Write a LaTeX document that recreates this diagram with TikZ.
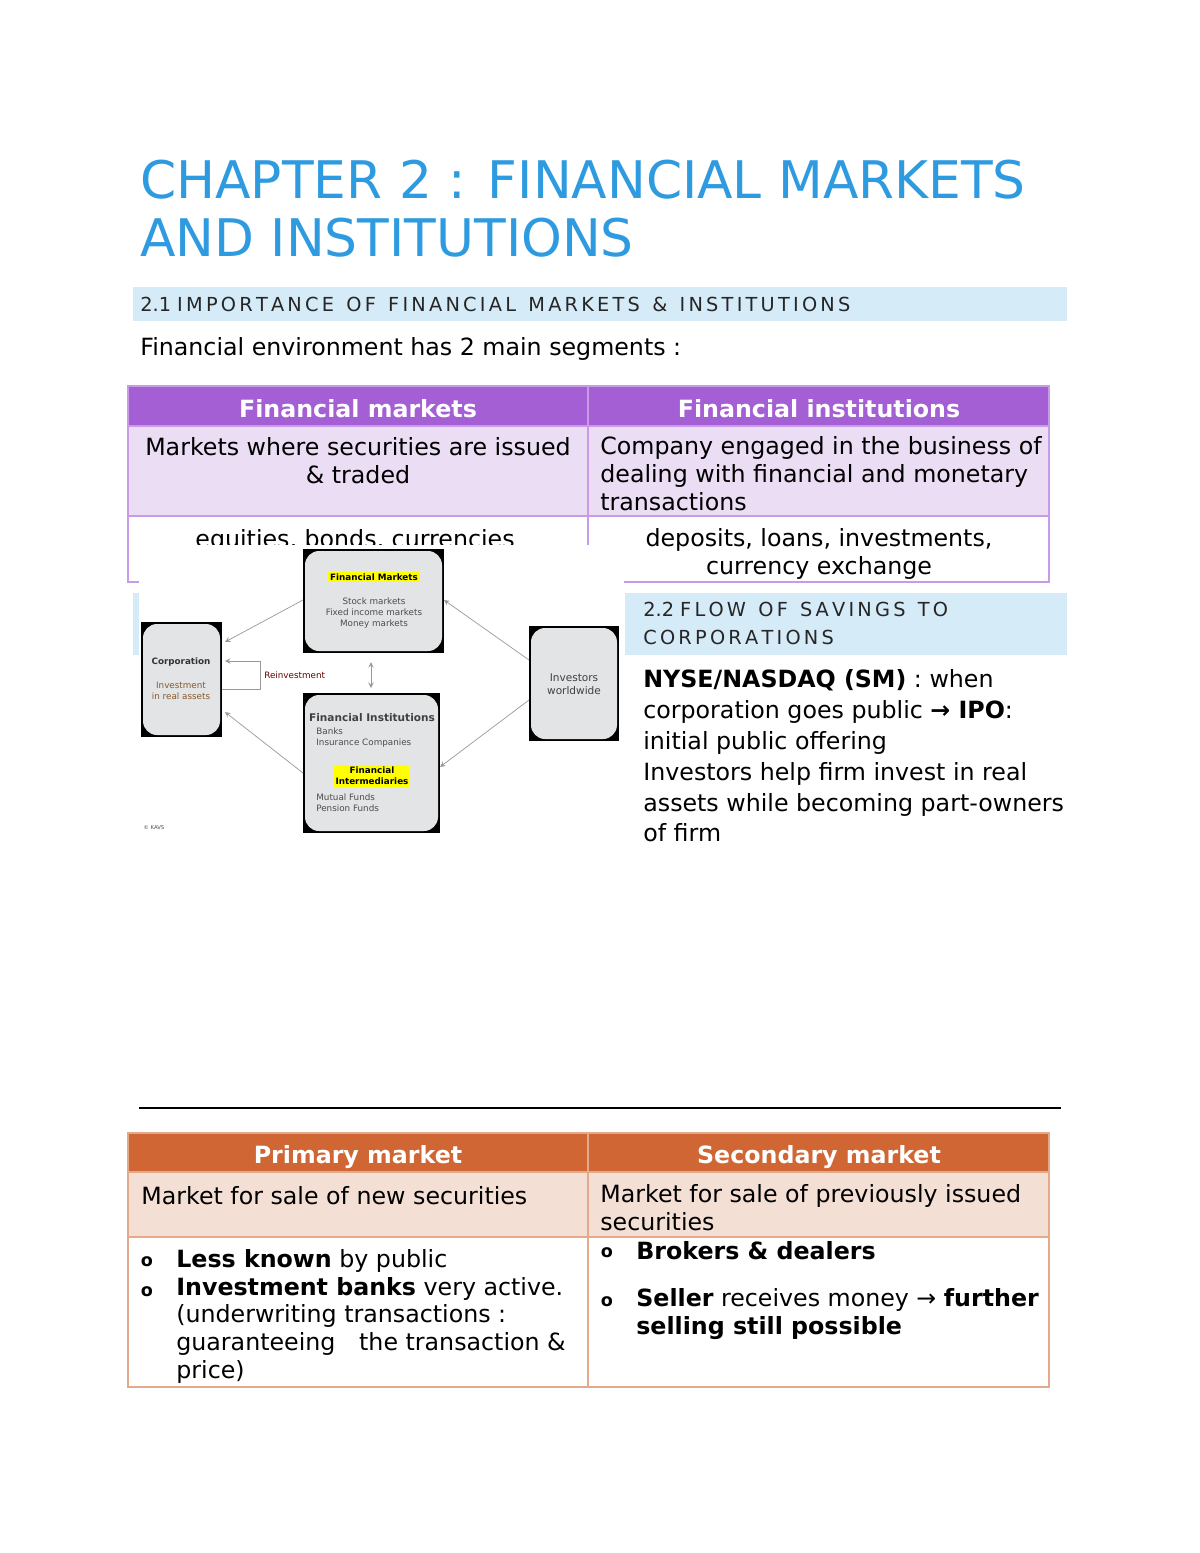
\documentclass[tikz,border=0pt]{standalone}
\usepackage{fontspec}
\setmainfont{DejaVu Sans}
\definecolor{titleblue}{HTML}{2E9BE0}
\definecolor{bandblue}{HTML}{D6EBF8}
\definecolor{purp}{HTML}{A35FD3}
\definecolor{lpurp}{HTML}{EBDDF4}
\definecolor{purpline}{HTML}{C89BE6}
\definecolor{orng}{HTML}{CF6633}
\definecolor{lorng}{HTML}{F4DFD5}
\definecolor{orline}{HTML}{E3A98C}
\definecolor{boxgray}{HTML}{E2E4E6}
\definecolor{hl}{HTML}{FFFF00}
\begin{document}
\begin{tikzpicture}[x=0.02cm,y=-0.02cm,
  body/.style={font=\fontsize{13.5}{16}\selectfont,inner sep=0pt},
  small/.style={font=\fontsize{5}{6.5}\selectfont,inner sep=0pt,text=black!70},
  gbox/.style={fill=boxgray,rounded corners=8pt,draw=none},
  arr/.style={draw=gray!80,->,>=stealth,thin}]
\useasboundingbox (0,0) rectangle (1200,1553);
\fill[white] (0,0) rectangle (1200,1553);
% title
\node[anchor=west,text=titleblue,font=\fontsize{29.5}{34}\selectfont,inner sep=0pt] (t1) at (140,180) {CHAPTER 2 : FINANCIAL MARKETS};
\node[anchor=west,text=titleblue,font=\fontsize{29.5}{34}\selectfont,inner sep=0pt] (t2) at (140,238) {AND INSTITUTIONS};
\fill[bandblue] (133,287) rectangle (1067,321);
\node[anchor=west,font=\fontsize{11}{13}\selectfont,inner sep=0pt,text=black!85] (h1) at (140,304) {2.1 I\,M\,P\,O\,R\,T\,A\,N\,C\,E\ \ O\,F\ \ F\,I\,N\,A\,N\,C\,I\,A\,L\ \ M\,A\,R\,K\,E\,T\,S\ \ \&\ \ I\,N\,S\,T\,I\,T\,U\,T\,I\,O\,N\,S};
\node[body,anchor=west] (intro) at (140,349) {Financial environment has 2 main segments :};
% table 1
\fill[purp] (128,386) rectangle (1049,426);
\fill[lpurp] (128,426) rectangle (1049,516);
\draw[purpline,line width=1.5pt] (128,386) rectangle (1049,582);
\draw[purpline,line width=1.5pt] (128,426) -- (1049,426) (128,516) -- (1049,516) (588,386) -- (588,582);
\node[body,text=white,font=\fontsize{13.5}{16}\selectfont\bfseries] (fm) at (358,409) {Financial markets};
\node[body,text=white,font=\fontsize{13.5}{16}\selectfont\bfseries] (fi) at (819,409) {Financial institutions};
\node[body,align=center] (fmd) at (358,461) {Markets where securities are issued\\\& traded};
\node[body,align=left,anchor=north west] (fid) at (600,436) {Company engaged in the business of\\dealing with financial and monetary\\transactions};
\node[body] (fme) at (355,541) {equities, bonds, currencies};
\node[body,align=center] (fie) at (819,554) {deposits, loans, investments,\\currency exchange};
% image overlay
\fill[white] (139,545) rectangle (624,840);
\fill[bandblue] (133,593) rectangle (139,655);
% section 2.2
\fill[bandblue] (625,593) rectangle (1067,655);
\node[anchor=west,font=\fontsize{11}{13}\selectfont,inner sep=0pt,text=black!85] (h2a) at (643,609) {2.2 F\,L\,O\,W\ \ O\,F\ \ S\,A\,V\,I\,N\,G\,S\ \ T\,O};
\node[anchor=west,font=\fontsize{11}{13}\selectfont,inner sep=0pt,text=black!85] (h2b) at (643,637) {C\,O\,R\,P\,O\,R\,A\,T\,I\,O\,N\,S};
\node[body,anchor=north west,align=left,font=\fontsize{13.5}{17.6}\selectfont] (txt) at (643,669) {\textbf{NYSE/NASDAQ (SM)} : when\\corporation goes public \textbf{→ IPO}:\\initial public offering\\Investors help firm invest in real\\assets while becoming part-owners\\of firm};
% diagram boxes
\fill[black] (141,622) rectangle (222,737);
\fill[gbox] (143,624) rectangle (220,735);
\fill[black] (303,549) rectangle (444,653);
\fill[gbox] (305,551) rectangle (442,651);
\fill[black] (303,693) rectangle (440,833);
\fill[gbox] (305,695) rectangle (438,831);
\fill[black] (529,626) rectangle (619,741);
\fill[gbox] (531,628) rectangle (617,739);
\node (corp) at (181,680) {};
\node[small,text=black!80] (c1) at (181,662) {\textbf{Corporation}};
\node[small,align=center,text=brown!70!black] (c2) at (181,691) {Investment\\in real assets};
\node[small,fill=hl,inner sep=1pt,text=black] (m1) at (374,577) {\textbf{Financial Markets}};
\node[small,align=center] (m2) at (374,613) {Stock markets\\Fixed income markets\\Money markets};
\node[small,font=\fontsize{6}{7}\selectfont\bfseries,text=black!75] (i1) at (372,718) {Financial Institutions};
\node[small,anchor=north west,align=left] (i2) at (316,727) {Banks\\Insurance Companies};
\node[small,fill=hl,align=center,inner sep=1pt,text=black] (i3) at (372,776) {\textbf{Financial}\\\textbf{Intermediaries}};
\node[small,anchor=north west,align=left] (i4) at (316,793) {Mutual Funds\\Pension Funds};
\node[small,align=center,font=\fontsize{6}{7.5}\selectfont,text=black!75] (inv) at (574,684) {Investors\\worldwide};
\node[small,font=\fontsize{3}{4}\selectfont] (cr) at (154,828) {© KAVS};
\coordinate (a1) at (303,600); \coordinate (a1e) at (225,642);
\coordinate (a2) at (303,773); \coordinate (a2e) at (225,712);
\coordinate (a3) at (529,660); \coordinate (a3e) at (444,600);
\coordinate (a4) at (529,700); \coordinate (a4e) at (440,767);
\draw[arr] (a1) -- (a1e);
\draw[arr] (a2) -- (a2e);
\draw[arr] (a3) -- (a3e);
\draw[arr] (a4) -- (a4e);
\coordinate (d1) at (371,662); \coordinate (d2) at (371,688);
\draw[arr,<->] (d1) -- (d2);
\coordinate (r1) at (222,689); \coordinate (r2) at (260,689); \coordinate (r3) at (260,661); \coordinate (r4) at (225,661);
\draw[arr] (r1) -- (r2) -- (r3) -- (r4);
\node[small,anchor=west,text=red!40!black] (reinv) at (264,675) {Reinvestment};
% rule
\draw[line width=1.2pt] (139,1108) -- (1061,1108);
% table 2
\fill[orng] (128,1133) rectangle (1049,1172);
\fill[lorng] (128,1172) rectangle (1049,1237);
\draw[orline,line width=1.5pt] (128,1133) rectangle (1049,1387);
\draw[orline,line width=1.5pt] (128,1172) -- (1049,1172) (128,1237) -- (1049,1237) (588,1133) -- (588,1387);
\node[body,text=white,font=\fontsize{13.5}{16}\selectfont\bfseries] (pm) at (358,1157) {Primary market};
\node[body,text=white,font=\fontsize{13.5}{16}\selectfont\bfseries] (sm) at (819,1157) {Secondary market};
\node[body,anchor=west] (pmd) at (141,1196) {Market for sale of new securities};
\node[body,anchor=north west,align=left] (smd) at (600,1184) {Market for sale of previously issued\\securities};
\node[body,font=\fontsize{10}{12}\selectfont\bfseries] (b1) at (147,1262) {o};
\node[body,font=\fontsize{10}{12}\selectfont\bfseries] (b2) at (147,1292) {o};
\node[body,anchor=north west,align=left,font=\fontsize{13.5}{15.8}\selectfont] (pl) at (176,1249) {\textbf{Less known} by public\\\textbf{Investment banks} very active.\\(underwriting transactions :\\guaranteeing\quad the transaction \&\\price)};
\node[body,font=\fontsize{10}{12}\selectfont\bfseries] (b3) at (607,1253) {o};
\node[body,font=\fontsize{10}{12}\selectfont\bfseries] (b4) at (607,1302) {o};
\node[body,anchor=west,font=\fontsize{13.5}{16}\selectfont\bfseries] (s1) at (636,1251) {Brokers \& dealers};
\node[body,anchor=north west,align=left,font=\fontsize{13.5}{15.8}\selectfont] (s2) at (636,1288) {\textbf{Seller} receives money → \textbf{further}\\\textbf{selling still possible}};
\end{tikzpicture}
\end{document}
